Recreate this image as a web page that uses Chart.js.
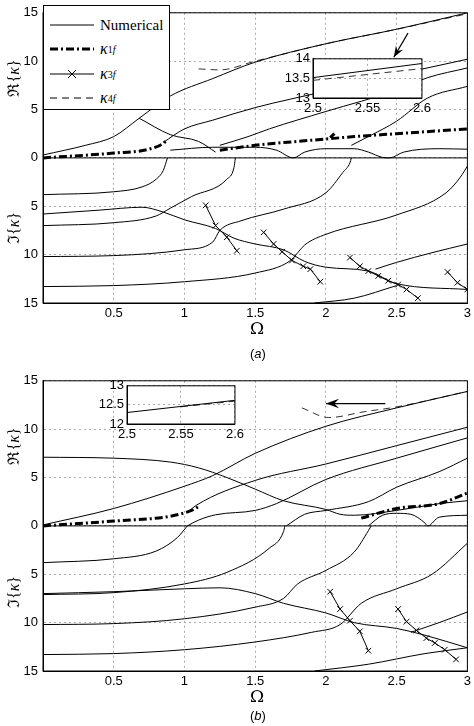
<!DOCTYPE html>
<html><head><meta charset="utf-8">
<script src="https://cdn.jsdelivr.net/npm/chart.js@4"></script>
<style>
body{margin:0;background:#fff;width:474px;height:726px;position:relative;font-family:"Liberation Sans",Arial,sans-serif;overflow:hidden}
canvas{position:absolute}
.t{position:absolute;color:#000;font-size:15px;white-space:nowrap}
.yl{position:absolute;transform:translate(-50%,-50%) rotate(-90deg);font-family:"Liberation Serif",serif;font-size:16px;white-space:nowrap}
.leg{position:absolute;left:43px;top:5px;width:127px;height:105px;background:#fff;border:1px solid #000;box-sizing:border-box;font-family:"Liberation Serif",serif;font-size:15px}
.leg div{position:absolute;left:6px;height:20px;display:flex;align-items:center}
.leg svg{margin-right:6px}
.k{font-family:"Liberation Serif",serif;font-style:italic;font-size:16px}
</style></head><body>
<canvas id="ca" style="left:0;top:0"></canvas>
<canvas id="cb" style="left:0;top:368px"></canvas>
<canvas id="ia" style="left:278px;top:48px"></canvas>
<canvas id="ib" style="left:92px;top:375px"></canvas>
<div class="leg">
 <div style="top:9px"><svg width="44" height="8"><line x1="0" y1="4" x2="44" y2="4" stroke="#000" stroke-width="1"/></svg><span>Numerical</span></div>
 <div style="top:33px"><svg width="44" height="8"><line x1="0" y1="4" x2="44" y2="4" stroke="#000" stroke-width="3" stroke-dasharray="8,3,2,3"/></svg><span class="k">κ</span><sub style="font-size:10px">1<i>f</i></sub></div>
 <div style="top:58px"><svg width="44" height="10"><line x1="0" y1="5" x2="44" y2="5" stroke="#000" stroke-width="1"/><path d="M22 1 l8 8 M30 1 l-8 8" stroke="#000" transform="translate(-4,0)"/></svg><span class="k">κ</span><sub style="font-size:10px">3<i>f</i></sub></div>
 <div style="top:82px"><svg width="44" height="8"><line x1="0" y1="4" x2="44" y2="4" stroke="#000" stroke-width="1" stroke-dasharray="7,5"/></svg><span class="k">κ</span><sub style="font-size:10px">4<i>f</i></sub></div>
</div>
<div class="yl" style="left:13px;top:78px">ℜ{<i>κ</i>}</div>
<div class="yl" style="left:13px;top:228px">ℑ{<i>κ</i>}</div>
<div class="yl" style="left:13px;top:446px">ℜ{<i>κ</i>}</div>
<div class="yl" style="left:13px;top:592px">ℑ{<i>κ</i>}</div>
<div class="t" style="left:250px;top:318px;font-family:'DejaVu Serif',serif;font-size:17px">Ω</div>
<div class="t" style="left:250px;top:346px;font-size:13px">(<i>a</i>)</div>
<div class="t" style="left:250px;top:686px;font-family:'DejaVu Serif',serif;font-size:17px">Ω</div>
<div class="t" style="left:250px;top:708px;font-size:13px">(<i>b</i>)</div>
<script>
// ---------- Panel (a): real parts (Ω, Re κ) ----------
const aReA=[[0,0.3],[0.3,1.3],[0.5,2.2],[0.68,4.1],[0.9,6.4],[1.2,8.2],[1.5,9.9],[2,11.8],[2.5,13.3],[3,15]];
const aReB=[[0.68,4.1],[0.9,2.4],[1.1,1.7],[1.22,0.6]];
const aReC=[[0.85,1.6],[1.0,3.0],[1.2,3.9],[1.5,5.2],[2,6.9],[2.5,8.6],[3,10.2]];
const aReD=[[1.25,1.3],[1.45,2.2],[1.6,3.0],[2,4.8],[2.5,7.0],[2.72,8.3],[3,9.3]];
const aReE=[[2.18,1.3],[2.3,2.2],[2.5,3.8],[2.72,6.2],[3,7.4]];
const aReF=[[0.9,0.8],[1.2,1.1],[1.5,1.1],[1.65,0.8],[1.77,0],[1.85,0.6],[2,0.95],[2.2,0.95],[2.3,0.6],[2.4,0.05],[2.45,0],[2.55,0.6],[2.8,0.95],[3,0.9]];
const aK1a=[[0,0],[0.5,0.5],[0.75,0.9],[0.85,1.5],[0.88,1.9]];
const aK1b=[[1.25,0.8],[1.5,1.3],[2,1.95],[2.2,2.2],[2.5,2.5],[3,3.0]];
const aK1c=[[2.03,2.1],[2.06,2.5]];
const aK4=[[1.1,9.2],[1.25,9.1],[1.5,10.0],[2,11.8],[2.5,13.3],[3,14.9]];
// panel (a): imaginary parts (Ω, Im κ), drawn downward
const aIm1=[[0,3.8],[0.5,3.5],[0.7,3.0],[0.8,2.2],[0.85,1.3],[0.88,0]];
const aIm2=[[0,7.0],[0.5,6.7],[0.8,6.0],[0.9,5.2],[1.05,4.0],[1.3,2.2],[1.35,1.0],[1.36,0]];
const aIm3=[[0,5.8],[0.4,5.4],[0.7,5.1],[0.85,5.6],[1.0,6.4],[1.22,7.3],[1.35,8.3],[1.5,8.9],[1.7,9.5],[1.85,10.7],[2.0,11.3],[2.3,11.7],[2.5,13.0],[3,13.6]];
const aIm4=[[0,10.2],[0.5,10.1],[1.0,9.5],[1.2,8.7],[1.25,7.5],[1.4,6.5],[1.7,5.3],[2.0,3.6],[2.12,1.5],[2.17,0.5],[2.18,0]];
const aIm5=[[0,13.3],[0.5,13.2],[1.0,12.8],[1.5,11.9],[1.75,10.6],[1.85,9.0],[2.0,7.9],[2.5,5.9],[2.85,3.6],[2.95,2.0],[3,0.85]];
const aIm6=[[2.35,11.5],[2.5,10.8],[2.75,9.8],[3,8.9]];
const aIm7=[[1.92,15],[2.2,14.5],[2.5,13.2]];
const aK3s=[[[1.15,4.9],[1.22,7.0],[1.3,8.2],[1.37,9.6]],
 [[1.56,7.7],[1.63,8.9],[1.69,9.7],[1.76,10.6],[1.84,11.2],[1.89,11.5],[1.96,12.8]],
 [[2.17,10.3],[2.24,11.2],[2.30,11.7],[2.37,12.2],[2.44,12.7],[2.51,13.1],[2.57,13.6],[2.65,14.5]],
 [[2.86,11.8],[2.93,12.9],[3.0,13.6]]];
// ---------- Panel (b) ----------
const bRe1=[[0,7.1],[0.5,7.0],[0.9,6.6],[1.1,6.0],[1.3,5.0],[1.5,3.8],[1.7,2.6],[2.0,1.7],[2.1,1.2],[2.2,1.1],[2.5,1.6],[2.8,2.3],[3,2.6]];
const bRe2=[[0,0.1],[0.5,1.8],[1.0,4.1],[1.2,5.2],[1.5,7.5],[2,10.3],[2.5,12.2],[3,13.9]];
const bRe3=[[1.03,1.5],[1.08,2.1],[1.5,4.7],[2,6.4],[2.5,8.3],[3,10.2]];
const bRe4=[[1.02,0],[1.1,0.6],[1.22,1.15],[1.5,1.6],[1.65,2.3],[2,4.8],[2.5,7.0],[3,9.1]];
const bRe5=[[1.72,0],[1.85,1.2],[2,1.6],[2.3,2.5],[2.5,4.0],[2.8,5.6],[3,7.0]];
const bRe6=[[2.3,0],[2.4,1.1],[2.5,1.3],[2.6,1.2],[2.7,0.3],[2.72,0],[2.8,0.9],[3,1.1]];
const bK1a=[[0,0],[0.5,0.5],[0.9,1.0],[1.05,1.6],[1.1,2.0]];
const bK1b=[[2.25,0.8],[2.5,1.8],[2.8,2.3],[2.95,3.1],[3,3.4]];
const bK4=[[1.83,12.2],[2.02,11.2],[2.27,11.8],[2.5,12.3],[3,13.9]];
const bIm1=[[0,3.8],[0.5,3.4],[0.8,2.6],[0.95,1.2],[1.02,0]];
const bIm2=[[0,7.1],[0.5,6.9],[1.0,6.0],[1.3,4.8],[1.6,2.3],[1.7,0.6],[1.71,0]];
const bIm3=[[0,7.0],[0.5,6.8],[1.0,6.5],[1.25,6.4],[1.5,7.0],[1.7,8.0],[2.0,9.0],[2.2,10.0],[2.5,10.6],[2.7,11.3],[3,12.6]];
const bIm4=[[0,10.2],[0.5,10.1],[1.0,9.6],[1.5,8.4],[1.7,7.5],[1.8,6.0],[2.0,4.6],[2.2,2.7],[2.3,0.5],[2.32,0]];
const bIm5=[[0,13.3],[0.5,13.2],[1.0,12.8],[1.5,12.0],[1.9,11.0],[2.1,10.2],[2.25,8.0],[2.5,6.5],[2.75,5.0],[3,1.8]];
const bIm6=[[2.6,11.0],[2.8,10.0],[3,8.9]];
const bIm7=[[1.92,15],[2.3,14.3],[2.7,13.2],[3,12.6]];
const bK3s=[[[2.03,6.8],[2.10,8.6],[2.17,9.8],[2.24,10.9],[2.30,12.9]],
 [[2.51,8.6],[2.57,9.9],[2.64,10.8],[2.71,11.6],[2.77,12.1],[2.84,12.8],[2.92,13.8]]];
// insets
const iaNum=[[2.5,13.52],[2.6,13.88]], iaK4=[[2.5,13.45],[2.6,13.75]];
const ibNum=[[2.5,12.3],[2.6,12.62]], ibK4=[[2.55,12.45],[2.6,12.6]];
// arrows [x1,y1,x2,y2] in data units
const arrowA=[2.58,12.9,2.48,10.4];
const arrowB=[2.42,12.65,2.0,12.65];
const xTicks=[0.5,1,1.5,2,2.5,3];
const iaY=[13,13.5,14], ibY=[12,12.5,13], insX=[2.5,2.55,2.6];

const P=(a,s=1)=>a.map(p=>({x:p[0],y:s*p[1]}));
const base={pointRadius:0,showLine:true,cubicInterpolationMode:'monotone'};
const num=(a,s)=>({...base,data:P(a,s),borderColor:'#000',borderWidth:1});
const k1=a=>({...base,data:P(a),borderColor:'#000',borderWidth:3,borderDash:[8,3,2,3]});
const k4=a=>({...base,data:P(a),borderColor:'#333',borderWidth:1,borderDash:[7,5]});
const k3=a=>({data:P(a,-1),borderColor:'#000',borderWidth:1,pointStyle:'crossRot',pointRadius:4,pointBorderColor:'#000',showLine:true});
const tf={family:'Liberation Sans',size:13};
const fmt=v=>String(Math.abs(Math.round(v*1000)/1000));
const dotGrid={color:'#aaa',drawTicks:false,lineWidth:1};
const dotBorder={display:true,dash:[2,3],color:'#000'};
function arrowPlugin(ar,head){return{id:'arr',afterDatasetsDraw(c){const x=c.scales.x,y=c.scales.y,g=c.ctx;
 const x1=x.getPixelForValue(ar[0]),y1=y.getPixelForValue(ar[1]),x2=x.getPixelForValue(ar[2]),y2=y.getPixelForValue(ar[3]);
 g.save();g.strokeStyle='#000';g.fillStyle='#000';g.lineWidth=1.2;g.beginPath();g.moveTo(x1,y1);g.lineTo(x2,y2);g.stroke();
 const an=Math.atan2(y2-y1,x2-x1);g.beginPath();g.moveTo(x2,y2);g.lineTo(x2-head*Math.cos(an-0.35),y2-head*Math.sin(an-0.35));
 g.lineTo(x2-head*0.6*Math.cos(an),y2-head*0.6*Math.sin(an));g.lineTo(x2-head*Math.cos(an+0.35),y2-head*Math.sin(an+0.35));g.closePath();g.fill();g.restore();}}}
const frame={id:'frame',beforeDatasetsDraw(c){const a=c.chartArea,g=c.ctx,y0=c.scales.y.getPixelForValue(0);
 g.save();g.strokeStyle='#000';g.lineWidth=1;g.beginPath();g.moveTo(a.left,y0);g.lineTo(a.right,y0);g.stroke();g.restore();},
 afterDraw(c){const a=c.chartArea,g=c.ctx;g.save();g.strokeStyle='#000';g.lineWidth=1;g.strokeRect(a.left,a.top,a.right-a.left,a.bottom-a.top);g.restore();}};
const setsA=[num(aReA),num(aReB),num(aReC),num(aReD),num(aReE),num(aReF),
 num(aIm1,-1),num(aIm2,-1),num(aIm3,-1),num(aIm4,-1),num(aIm5,-1),num(aIm6,-1),num(aIm7,-1),
 k4(aK4),k1(aK1a),k1(aK1b),k1(aK1c),...aK3s.map(k3)];
const setsB=[num(bRe1),num(bRe2),num(bRe3),num(bRe4),num(bRe5),num(bRe6),
 num(bIm1,-1),num(bIm2,-1),num(bIm3,-1),num(bIm4,-1),num(bIm5,-1),num(bIm6,-1),num(bIm7,-1),
 k4(bK4),k1(bK1a),k1(bK1b),...bK3s.map(k3)];
function mk(id,h,sets,ar,head){
 const cv=document.getElementById(id);cv.width=474;cv.height=h;cv.style.width='474px';cv.style.height=h+'px';
 new Chart(cv,{type:'scatter',data:{datasets:sets},plugins:[frame,arrowPlugin(ar,head)],
 options:{responsive:false,animation:false,layout:{padding:{top:5,right:4,left:0,bottom:0}},plugins:{legend:{display:false},tooltip:{enabled:false}},
 scales:{x:{type:'linear',min:0,max:3,afterBuildTicks:s=>{s.ticks=xTicks.map(v=>({value:v}))},afterFit:s=>{s.height=17},
  border:dotBorder,grid:dotGrid,ticks:{color:'#000',font:tf,padding:3,callback:fmt}},
  y:{min:-15,max:15,afterFit:s=>{s.width=43},border:dotBorder,grid:dotGrid,
   ticks:{stepSize:5,color:'#000',font:tf,padding:5,callback:fmt}}}}});
}
mk('ca',320,setsA,arrowA,12);
mk('cb',320,setsB,arrowB,14);
function inset(id,w,h,ymin,ymax,ty,sets){
 const cv=document.getElementById(id);cv.width=w;cv.height=h;cv.style.width=w+'px';cv.style.height=h+'px';
 const bg={id:'bg',beforeDraw(c){const a=c.chartArea,g=c.ctx;g.save();g.fillStyle='#fff';g.fillRect(a.left,a.top,a.right-a.left,a.bottom-a.top);g.restore();},
  afterDraw(c){const a=c.chartArea,g=c.ctx;g.save();g.strokeStyle='#000';g.strokeRect(a.left,a.top,a.right-a.left,a.bottom-a.top);g.restore();}};
 new Chart(cv,{type:'scatter',data:{datasets:sets},plugins:[bg],options:{responsive:false,animation:false,
  layout:{padding:{top:6,right:2}},plugins:{legend:{display:false},tooltip:{enabled:false}},
  scales:{x:{min:2.5,max:2.6,afterBuildTicks:s=>{s.ticks=insX.map(v=>({value:v}))},afterFit:s=>{s.height=18},border:dotBorder,
   grid:dotGrid,ticks:{color:'#000',font:tf,padding:3,callback:fmt}},
   y:{min:ymin,max:ymax,afterBuildTicks:s=>{s.ticks=ty.map(v=>({value:v}))},afterFit:s=>{s.width=35},border:dotBorder,
   grid:dotGrid,ticks:{color:'#000',font:tf,padding:3,callback:fmt}}}}});
}
inset('ia',156,68,13,14,iaY,[num(iaNum),k4(iaK4)]);
inset('ib',155,67,12,13,ibY,[num(ibNum),k4(ibK4)]);
</script></body></html>
